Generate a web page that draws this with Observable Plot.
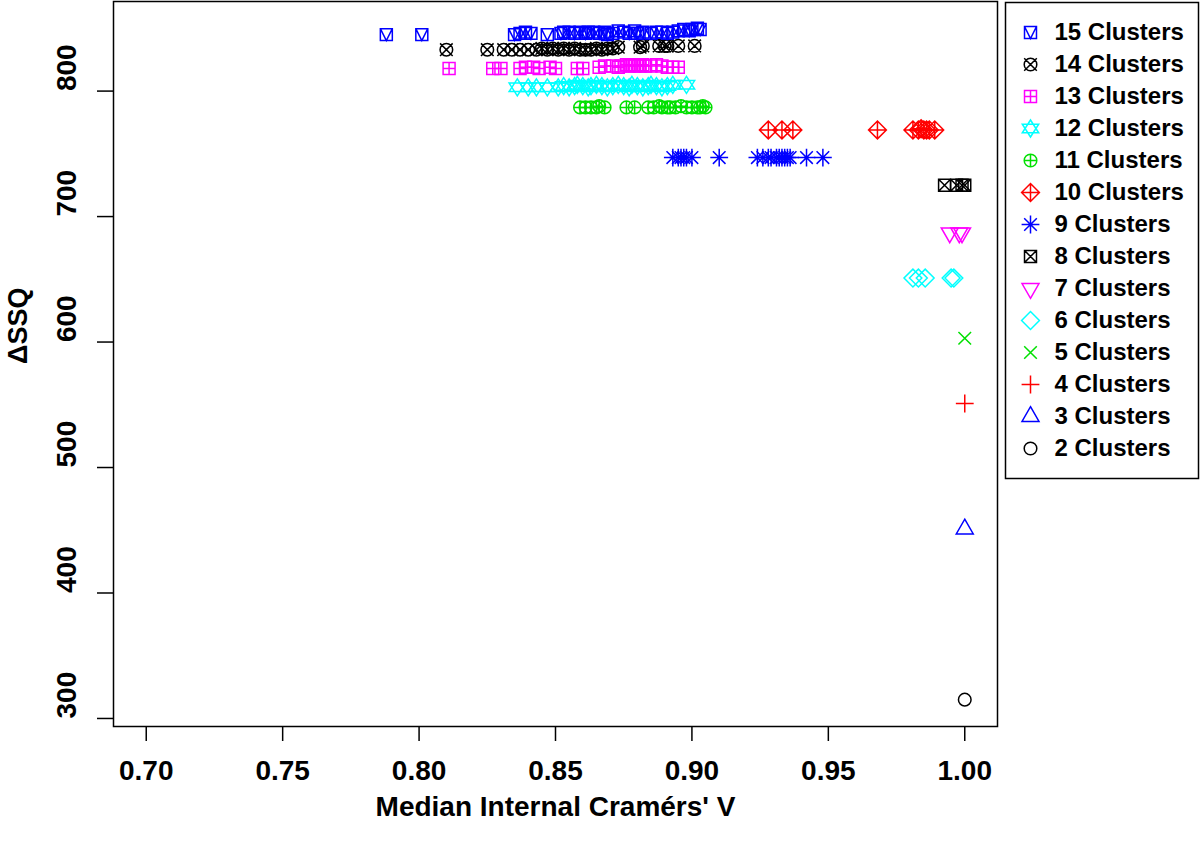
<!DOCTYPE html>
<html><head><meta charset="utf-8">
<script src="https://cdn.jsdelivr.net/npm/d3@7"></script>
<script src="https://cdn.jsdelivr.net/npm/@observablehq/plot@0.6"></script>
<style>
body{margin:0;background:#fff;}
#wrap{position:relative;width:1200px;height:847px;background:#fff;}
#wrap svg{font-family:"Liberation Sans",Arial,Helvetica,sans-serif;display:block;}
#legend{position:absolute;left:1003px;top:0;}
#main{position:absolute;left:0;top:0;}
</style></head><body><div id="wrap"><div id="main"></div><div id="legend"></div></div>
<script>
// ---------- data ----------
const clusterCounts = [15,14,13,12,11,10,9,8,7,6,5,4,3,2];
const seriesColors = ["#0000FF","#000000","#FF00FF","#00FFFF","#00E000","#FF0000","#0000FF","#000000","#FF00FF","#00FFFF","#00E000","#FF0000","#0000FF","#000000"];
const xTicks = [0.70,0.75,0.80,0.85,0.90,0.95,1.00];
const yTicks = [300,400,500,600,700,800];
const xTitle = "Median Internal Cramérs' V";
const yTitle = "ΔSSQ";

// Median internal Cramér's V (v) and ΔSSQ (d) for each solution
const v15 = [0.788,0.801,0.835,0.837,0.839,0.841,0.847,0.852,0.853,0.855,0.857,0.859,0.861,0.862,0.864,0.866,0.868,0.869,0.871,0.873,0.875,0.877,0.879,0.880,0.882,0.885,0.887,0.889,0.891,0.893,0.895,0.897,0.899,0.900,0.902,0.903];
const d15 = [845,845,845,846,847,846,845,846,847,847,846,847,846,847,847,846,847,845,846,848,847,846,848,846,847,846,847,847,846,847,848,849,848,849,850,849];
const v14 = [0.810,0.825,0.831,0.834,0.837,0.840,0.843,0.845,0.847,0.849,0.851,0.853,0.855,0.857,0.859,0.861,0.863,0.865,0.867,0.869,0.871,0.873,0.881,0.882,0.888,0.890,0.891,0.895,0.901];
const d14 = [833,833,833,833,833,833,833,834,833,834,833,834,833,834,833,833,833,834,833,834,834,835,835,836,836,836,836,836,836];
const v13 = [0.811,0.827,0.830,0.837,0.839,0.842,0.844,0.848,0.850,0.858,0.860,0.866,0.868,0.871,0.873,0.874,0.876,0.877,0.878,0.879,0.880,0.881,0.882,0.883,0.885,0.887,0.889,0.891,0.893,0.895];
const d13 = [818,818,818,818,819,819,818,819,818,818,818,819,820,820,819,820,821,820,821,820,821,820,821,820,820,821,820,819,819,819];
const v12 = [0.836,0.840,0.843,0.847,0.851,0.853,0.855,0.857,0.858,0.860,0.862,0.863,0.865,0.867,0.869,0.871,0.873,0.875,0.877,0.878,0.880,0.882,0.884,0.885,0.887,0.889,0.891,0.893,0.898];
const d12 = [803,803,803,803,803,804,803,804,805,804,803,804,805,804,803,804,805,804,803,805,804,803,804,805,804,803,804,805,805];
const v11 = [0.859,0.861,0.863,0.865,0.866,0.868,0.876,0.879,0.884,0.886,0.888,0.889,0.891,0.892,0.894,0.896,0.898,0.900,0.902,0.903,0.904,0.905];
const d11 = [787,787,787,787,788,787,787,787,787,787,788,787,787,787,787,788,787,787,787,787,788,787];
const v10 = [0.928,0.933,0.937,0.968,0.981,0.983,0.984,0.985,0.986,0.987,0.989];
const d10 = [769,769,769,769,769,769,770,769,769,769,769];
const v9 = [0.893,0.895,0.896,0.897,0.898,0.900,0.910,0.924,0.926,0.928,0.929,0.931,0.932,0.933,0.934,0.935,0.936,0.942,0.948];
const d9 = [747,747,747,747,747,747,747,747,747,747,747,747,747,747,747,747,747,747,747];
const v8 = [0.9926,0.997,0.999,1.0];
const d8 = [725,725,725,725];
const v7 = [0.9945,0.998,0.999];
const d7 = [687,687,687];
const v6 = [0.981,0.983,0.9855,0.995,0.996];
const d6 = [651,651,651,651,651];
const v5 = [1.0];
const d5 = [603];
const v4 = [1.0];
const d4 = [551];
const v3 = [1.0];
const d3s = [451];
const v2 = [1.0];
const d2 = [315];

const seriesV = [v15,v14,v13,v12,v11,v10,v9,v8,v7,v6,v5,v4,v3,v2];
const seriesD = [d15,d14,d13,d12,d11,d10,d9,d8,d7,d6,d5,d4,d3s,d2];

// ---------- R-like plotting symbols (pch 1..14) ----------
const T0 = 1.5551, T1 = 1.3468, T2 = 0.7776, RT2 = Math.SQRT2, SQ = 0.95;
const rad = size => Math.sqrt(size / Math.PI);
function rect(c, h){ c.moveTo(-h,-h); c.lineTo(h,-h); c.lineTo(h,h); c.lineTo(-h,h); c.closePath(); }
function circ(c, r){ c.moveTo(r,0); c.arc(0,0,r,0,2*Math.PI); }
function cross(c, h){ c.moveTo(-h,-h); c.lineTo(h,h); c.moveTo(-h,h); c.lineTo(h,-h); }
function plus(c, h){ c.moveTo(-h,0); c.lineTo(h,0); c.moveTo(0,-h); c.lineTo(0,h); }
function diam(c, h){ c.moveTo(-h,0); c.lineTo(0,h); c.lineTo(h,0); c.lineTo(0,-h); c.closePath(); }
const pch = {
  1: {draw(c,s){ circ(c, rad(s)); }},
  2: {draw(c,s){ const r=rad(s); c.moveTo(0,-T0*r); c.lineTo(T1*r,T2*r); c.lineTo(-T1*r,T2*r); c.closePath(); }},
  3: {draw(c,s){ plus(c, RT2*rad(s)); }},
  4: {draw(c,s){ cross(c, rad(s)); }},
  5: {draw(c,s){ diam(c, RT2*rad(s)); }},
  6: {draw(c,s){ const r=rad(s); c.moveTo(0,T0*r); c.lineTo(T1*r,-T2*r); c.lineTo(-T1*r,-T2*r); c.closePath(); }},
  7: {draw(c,s){ const h=SQ*rad(s); rect(c,h); cross(c,h); }},
  8: {draw(c,s){ const r=rad(s); cross(c,r); plus(c,RT2*r); }},
  9: {draw(c,s){ const h=RT2*rad(s); diam(c,h); plus(c,h); }},
  10:{draw(c,s){ const r=rad(s); circ(c,r); plus(c,r); }},
  11:{draw(c,s){ const r=rad(s), a=1.35*r, b=0.68*r, w=1.3*r;
        c.moveTo(0,-a); c.lineTo(w,b); c.lineTo(-w,b); c.closePath();
        c.moveTo(0,a); c.lineTo(w,-b); c.lineTo(-w,-b); c.closePath(); }},
  12:{draw(c,s){ const h=SQ*rad(s); rect(c,h); plus(c,h); }},
  13:{draw(c,s){ const r=rad(s); circ(c,r); cross(c,r); }},
  14:{draw(c,s){ const h=SQ*rad(s); rect(c,h); c.moveTo(-h,-h); c.lineTo(0,h); c.lineTo(h,-h); }}
};

const font = "Liberation Sans, Arial, Helvetica, sans-serif";
const R = 6.3;

const dotMarks = clusterCounts.slice().reverse().map(k => {
  const i = clusterCounts.indexOf(k);
  const rows = seriesV[i].map((v, j) => ({v, d: seriesD[i][j]}));
  return Plot.dot(rows, {x: "v", y: "d", r: R, symbol: pch[k - 1], stroke: seriesColors[i], strokeWidth: 1.5, fill: "none"});
});

const main = Plot.plot({
  width: 1200, height: 847,
  marginLeft: 113, marginRight: 203, marginTop: 1, marginBottom: 121,
  x: {domain: [0.688, 1.012]},
  y: {domain: [293.6, 871.4]},
  style: {fontFamily: font, background: "white", color: "black"},
  marks: [
    Plot.axisX({ticks: xTicks, tickSize: 15, tickFormat: () => "", label: null, strokeWidth: 1.5}),
    Plot.axisY({ticks: yTicks, tickSize: 16, tickFormat: () => "", label: null, strokeWidth: 1.5}),
    Plot.text(xTicks, {x: d => d, frameAnchor: "bottom", dy: 53, text: d => d3.format(".2f")(d), fontSize: 28, fontWeight: "bold", fill: "black"}),
    Plot.text(yTicks, {y: d => d, frameAnchor: "left", dx: -46, rotate: -90, text: d => String(d), fontSize: 28, fontWeight: "bold", fill: "black"}),
    Plot.text([xTitle], {frameAnchor: "bottom", dy: 89, text: d => d, fontSize: 28, fontWeight: "bold", fill: "black"}),
    Plot.text([yTitle], {frameAnchor: "left", dx: -95, rotate: -90, text: d => d, fontSize: 27, fontWeight: "bold", fill: "black"}),
    ...dotMarks,
    Plot.frame({stroke: "black", strokeWidth: 1.5})
  ]
});
document.getElementById("main").appendChild(main);

// ---------- legend ----------
const legendLabels = clusterCounts.map(k => `${k} Clusters`);
const legendMarks = clusterCounts.map((k, i) =>
  Plot.dot([legendLabels[i]], {y: d => d, frameAnchor: "left", dx: 25, r: R, symbol: pch[k - 1], stroke: seriesColors[i], strokeWidth: 1.5, fill: "none"})
);
const legend = Plot.plot({
  width: 197, height: 481,
  marginLeft: 2, marginRight: 2, marginTop: 2, marginBottom: 3,
  y: {type: "point", domain: legendLabels, range: [27, 453], padding: 0, axis: null},
  style: {fontFamily: font, background: "white", color: "black"},
  marks: [
    Plot.frame({stroke: "black", strokeWidth: 1.5}),
    ...legendMarks,
    Plot.text(legendLabels, {y: d => d, frameAnchor: "left", dx: 49, textAnchor: "start", fontSize: 24, fontWeight: "bold", fill: "black"})
  ]
});
document.getElementById("legend").appendChild(legend);
</script>
</body></html>
